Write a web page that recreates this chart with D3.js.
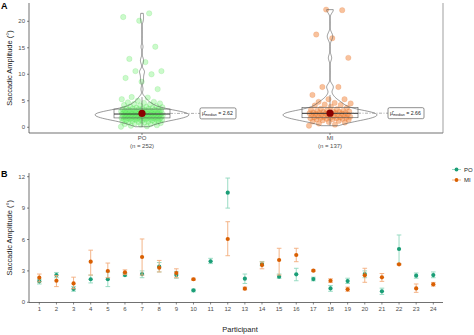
<!DOCTYPE html>
<html>
<head>
<meta charset="utf-8">
<script src="https://cdn.jsdelivr.net/npm/d3@7"></script>
<style>
  body { margin: 0; background: #ffffff; }
  text { font-family: "Liberation Sans", Arial, sans-serif; }
</style>
</head>
<body>
<div id="canvas"></div>
<script>
//panel A data: saccadic amplitudes per condition
var groups = ['PO', 'MI'];
var groupN = ['(n = 252)', '(n = 137)'];
var medianLabels = ['2.62', '2.66'];

var poValues = [0.1, 0.2, 0.3, 0.4, 0.5, 0.6, 0.6, 0.7, 0.8, 0.9, 0.9, 1.0, 1.0, 1.1, 1.1, 1.2, 1.2, 1.25, 1.3, 1.3, 1.4,
  1.4, 1.45, 1.5, 1.5, 1.5, 1.55, 1.6, 1.6, 1.6, 1.65, 1.7, 1.7, 1.7, 1.75, 1.8, 1.8, 1.8, 1.85, 1.9, 1.9,
  1.9, 1.95, 2.0, 2.0, 2.0, 2.0, 2.05, 2.1, 2.1, 2.1, 2.15, 2.2, 2.2, 2.2, 2.2, 2.25, 2.3, 2.3, 2.3, 2.35,
  2.4, 2.4, 2.4, 2.4, 2.45, 2.5, 2.5, 2.5, 2.5, 2.55, 2.6, 2.6, 2.6, 2.62, 2.65, 2.7, 2.7, 2.7, 2.7, 2.75,
  2.8, 2.8, 2.8, 2.85, 2.9, 2.9, 2.9, 2.95, 3.0, 3.0, 3.0, 3.05, 3.1, 3.1, 3.15, 3.2, 3.2, 3.25, 3.3, 3.3,
  3.4, 3.4, 3.45, 3.5, 3.5, 3.55, 3.6, 3.65, 3.7, 3.8, 3.85, 3.9, 4.0, 4.1, 4.2, 4.3, 4.4, 4.5, 4.6, 4.7, 4.8,
  5.0, 5.3, 5.6, 5.7, 7.2, 8.6, 9.3, 10.0, 10.6, 10.6, 12.3, 12.9, 15.2, 20.1, 20.8, 21.5];

var miValues = [0.3, 0.5, 0.7, 0.9, 1.0, 1.1, 1.2, 1.3, 1.4, 1.5, 1.5, 1.6, 1.6, 1.7, 1.7, 1.75, 1.8, 1.8, 1.9, 1.9,
  2.0, 2.0, 2.1, 2.1, 2.2, 2.2, 2.3, 2.3, 2.4, 2.4, 2.5, 2.5, 2.6, 2.6, 2.66, 2.7, 2.7, 2.7, 2.8, 2.8,
  2.9, 2.9, 3.0, 3.0, 3.1, 3.1, 3.2, 3.3, 3.4, 3.5, 3.7, 3.9, 4.1, 4.2, 4.3, 4.5, 4.6, 4.8, 5.3, 5.3,
  6.1, 7.6, 7.6, 13.1, 16.8, 17.5, 22.1, 22.2];

var yTicksA = [0, 5, 10, 15, 20];

//panel B data: mean and interval per participant
var participants = d3.range(1, 25).map(String);
var poMean = [2.0, 2.6, 1.27, 2.2, 2.2, 2.6, 2.7, 3.4, 2.6, 1.14, 3.92, 10.47, 2.26, 3.66, 2.45, 2.67, 2.22, 1.33, 2.03, 2.7, 1.05, 5.09, 2.54, 2.6];
var poLow = [1.75, 2.35, 1.05, 1.85, 1.5, 2.5, 2.35, 2.9, 2.3, 1.0, 3.7, 9.0, 1.8, 3.5, 2.3, 2.06, 2.05, 1.05, 1.8, 2.35, 0.75, 3.7, 2.3, 2.35];
var poHigh = [2.2, 2.85, 1.5, 2.6, 2.9, 2.75, 3.0, 3.8, 2.95, 1.25, 4.2, 11.87, 2.7, 3.9, 2.7, 3.25, 2.4, 1.6, 2.3, 3.0, 1.35, 6.43, 2.8, 2.9];
var miMean = [2.35, 2.06, 1.8, 3.88, 2.99, 2.86, 4.33, 3.3, 2.8, 2.2, null, 6.05, 1.3, 3.56, 4.04, 4.52, 3.02, 2.06, 1.24, 2.58, 2.39, 3.63, 1.33, 1.72];
var miLow = [1.95, 1.5, 1.3, 2.6, 2.35, 2.65, 2.6, 2.9, 2.35, 2.1, null, 4.45, 1.2, 3.2, 2.6, 3.88, 2.95, 1.9, 1.05, 1.91, 2.0, 3.55, 0.95, 1.55];
var miHigh = [2.7, 2.55, 2.4, 4.98, 3.75, 3.1, 6.05, 4.0, 3.2, 2.3, null, 7.7, 1.45, 3.85, 5.16, 5.16, 3.1, 2.25, 1.45, 3.25, 2.75, 3.7, 1.75, 1.9];
var yTicksB = [0, 3, 6, 9, 12];

//canvas
var cv = { 'width': 474, 'height': 335 };
var svg = d3.select('#canvas').append('svg')
  .attr('width', cv.width)
  .attr('height', cv.height);

var axisColor = '#333333';
var tickColor = '#4d4d4d';

//---------------- panel A ----------------
var pA = { 'left': 29, 'right': 443, 'top': 3, 'bottom': 133 };

var yA = d3.scaleLinear()
  .domain([-1.08, 23.45])
  .range([pA.bottom, pA.top]);

var xA = d3.scaleOrdinal()
  .domain(groups)
  .range([142, 330]);

var gA = svg.append('g');

//violin via gaussian kernel density
function kde(values) {
  var sorted = values.slice().sort(d3.ascending);
  var sd = d3.deviation(values);
  var iqr = d3.quantile(sorted, 0.75) - d3.quantile(sorted, 0.25);
  var bw = 0.9 * Math.min(sd, iqr / 1.34) * Math.pow(values.length, -0.2);
  var lo = d3.min(values), hi = d3.max(values);
  var grid = d3.range(lo, hi, (hi - lo) / 200).concat([hi]);
  return grid.map(function(y) {
    var s = d3.sum(values, function(v) {
      var z = (y - v) / bw;
      return Math.exp(-0.5 * z * z);
    });
    return [y, s / (values.length * bw * Math.sqrt(2 * Math.PI))];
  });
}

var groupData = [poValues, miValues];
var fills = ['#5ef05e', '#f2853c'];
var strokes = ['#4fd84f', '#e0702a'];
var fillOp = [0.32, 0.5];

groupData.forEach(function(vals, gi) {
  var cx = xA(groups[gi]);
  var dens = kde(vals);
  var wScale = d3.scaleLinear()
    .domain([0, d3.max(dens, d => d[1])])
    .range([0, 47]);

  //jittered points
  gA.selectAll('.pt' + gi)
    .data(vals)
    .enter().append('circle')
    .attr('class', 'pt' + gi)
    .attr('cx', (d, i) => cx + (((i * 0.6180339) % 1) - 0.5) * 42)
    .attr('cy', d => yA(d))
    .attr('r', 2.7)
    .attr('fill', fills[gi])
    .attr('fill-opacity', fillOp[gi])
    .attr('stroke', strokes[gi])
    .attr('stroke-opacity', 0.35)
    .attr('stroke-width', 0.5);

  var area = d3.area()
    .y(d => yA(d[0]))
    .x0(d => cx - wScale(d[1]))
    .x1(d => cx + wScale(d[1]))
    .curve(d3.curveBasis);

  gA.append('path')
    .datum(dens)
    .attr('d', area)
    .attr('fill', 'none')
    .attr('stroke', '#555555')
    .attr('stroke-width', 0.6);

  //boxplot
  var sorted = vals.slice().sort(d3.ascending);
  var q1 = d3.quantile(sorted, 0.25);
  var q2 = d3.quantile(sorted, 0.5);
  var q3 = d3.quantile(sorted, 0.75);
  var iqr = q3 - q1;
  var wHi = d3.max(sorted.filter(v => v <= q3 + 1.5 * iqr));
  var wLo = d3.min(sorted.filter(v => v >= q1 - 1.5 * iqr));
  var bw = 28;

  gA.append('line')
    .attr('x1', cx).attr('x2', cx)
    .attr('y1', yA(q3)).attr('y2', yA(wHi))
    .attr('stroke', '#555555').attr('stroke-width', 0.6);
  gA.append('line')
    .attr('x1', cx).attr('x2', cx)
    .attr('y1', yA(q1)).attr('y2', yA(wLo))
    .attr('stroke', '#555555').attr('stroke-width', 0.6);
  gA.append('rect')
    .attr('x', cx - bw).attr('width', bw * 2)
    .attr('y', yA(q3)).attr('height', yA(q1) - yA(q3))
    .attr('fill', 'none')
    .attr('stroke', '#555555').attr('stroke-width', 0.6);
  gA.append('line')
    .attr('x1', cx - bw).attr('x2', cx + bw)
    .attr('y1', yA(q2)).attr('y2', yA(q2))
    .attr('stroke', '#333333').attr('stroke-width', 1);

  //median label with dashed leader
  var my = yA(+medianLabels[gi]);
  var lx = cx + 58;
  gA.append('line')
    .attr('x1', cx).attr('x2', lx)
    .attr('y1', my).attr('y2', my)
    .attr('stroke', '#777777')
    .attr('stroke-width', 0.6)
    .attr('stroke-dasharray', '3,1.5,1,1.5');

  gA.append('circle')
    .attr('cx', cx).attr('cy', my)
    .attr('r', 3.6)
    .attr('fill', '#8b0000');

  var lbl = gA.append('g').attr('transform', 'translate(' + lx + ',' + (my - 5.5) + ')');
  lbl.append('rect')
    .attr('width', 36).attr('height', 11)
    .attr('rx', 1.5)
    .attr('fill', '#ffffff')
    .attr('stroke', '#444444')
    .attr('stroke-width', 0.6);
  var t = lbl.append('text')
    .attr('x', 2).attr('y', 7.3)
    .attr('font-size', 5.2)
    .attr('fill', '#222222');
  t.append('tspan').text('\u03BC\u0302');
  t.append('tspan').attr('font-size', 3.6).attr('dy', 1.3).text('median');
  t.append('tspan').attr('dy', -1.3).text(' = ' + medianLabels[gi]);
});

//axes A
gA.append('line')
  .attr('x1', pA.left).attr('x2', pA.left)
  .attr('y1', pA.top).attr('y2', pA.bottom)
  .attr('stroke', axisColor).attr('stroke-width', 0.7);
gA.append('line')
  .attr('x1', pA.left).attr('x2', pA.right)
  .attr('y1', pA.bottom).attr('y2', pA.bottom)
  .attr('stroke', axisColor).attr('stroke-width', 0.7);
gA.append('line')
  .attr('x1', pA.right).attr('x2', pA.right)
  .attr('y1', pA.top).attr('y2', pA.bottom)
  .attr('stroke', '#777777').attr('stroke-width', 0.7);

gA.selectAll('.ytA')
  .data(yTicksA)
  .enter().append('text')
  .attr('x', pA.left - 4)
  .attr('y', d => yA(d) + 2)
  .attr('text-anchor', 'end')
  .attr('font-size', 6)
  .attr('fill', tickColor)
  .text(d => d);
gA.selectAll('.ytkA')
  .data(yTicksA)
  .enter().append('line')
  .attr('x1', pA.left - 2).attr('x2', pA.left)
  .attr('y1', d => yA(d)).attr('y2', d => yA(d))
  .attr('stroke', axisColor).attr('stroke-width', 0.6);

groups.forEach(function(g, gi) {
  gA.append('line')
    .attr('x1', xA(g)).attr('x2', xA(g))
    .attr('y1', pA.bottom).attr('y2', pA.bottom + 2)
    .attr('stroke', axisColor).attr('stroke-width', 0.6);
  gA.append('text')
    .attr('x', xA(g)).attr('y', pA.bottom + 7)
    .attr('text-anchor', 'middle')
    .attr('font-size', 6)
    .attr('fill', tickColor)
    .text(g);
  gA.append('text')
    .attr('x', xA(g)).attr('y', pA.bottom + 14.5)
    .attr('text-anchor', 'middle')
    .attr('font-size', 6)
    .attr('fill', tickColor)
    .text(groupN[gi]);
});

gA.append('text')
  .attr('transform', 'translate(12,' + ((pA.top + pA.bottom) / 2) + ') rotate(-90)')
  .attr('text-anchor', 'middle')
  .attr('font-size', 7.5)
  .attr('fill', '#222222')
  .text('Saccadic Amplitude (\u00B0)');

svg.append('text')
  .attr('x', 1).attr('y', 9)
  .attr('font-size', 9)
  .attr('font-weight', 'bold')
  .text('A');

//---------------- panel B ----------------
var pB = { 'left': 29, 'right': 443, 'top': 173, 'bottom': 302.5 };

var yB = d3.scaleLinear()
  .domain([0, 12])
  .range([302.3, 176.7]);

var xB = d3.scalePoint()
  .domain(participants)
  .range([39.3, 433.3]);

var gB = svg.append('g');

var series = [
  { name: 'PO', mean: poMean, low: poLow, high: poHigh, color: '#1b9e77', bar: '#8fd8bd' },
  { name: 'MI', mean: miMean, low: miLow, high: miHigh, color: '#d95f02', bar: '#f3ad7c' }
];

series.forEach(function(s) {
  var rows = participants.map(function(p, i) {
    return { p: p, m: s.mean[i], lo: s.low[i], hi: s.high[i] };
  }).filter(d => d.m !== null);

  gB.selectAll('.eb' + s.name)
    .data(rows)
    .enter().append('line')
    .attr('x1', d => xB(d.p)).attr('x2', d => xB(d.p))
    .attr('y1', d => yB(d.lo)).attr('y2', d => yB(d.hi))
    .attr('stroke', s.bar).attr('stroke-width', 0.9);
  [['lo', 'capLo'], ['hi', 'capHi']].forEach(function(k) {
    gB.selectAll('.' + k[1] + s.name)
      .data(rows)
      .enter().append('line')
      .attr('x1', d => xB(d.p) - 2.3).attr('x2', d => xB(d.p) + 2.3)
      .attr('y1', d => yB(d[k[0]])).attr('y2', d => yB(d[k[0]]))
      .attr('stroke', s.bar).attr('stroke-width', 0.9);
  });
  gB.selectAll('.pm' + s.name)
    .data(rows)
    .enter().append('circle')
    .attr('cx', d => xB(d.p))
    .attr('cy', d => yB(d.m))
    .attr('r', 2.1)
    .attr('fill', s.color);
});

//axes B
gB.append('line')
  .attr('x1', pB.left).attr('x2', pB.left)
  .attr('y1', pB.top).attr('y2', pB.bottom)
  .attr('stroke', axisColor).attr('stroke-width', 0.7);
gB.append('line')
  .attr('x1', pB.left).attr('x2', pB.right)
  .attr('y1', pB.bottom).attr('y2', pB.bottom)
  .attr('stroke', axisColor).attr('stroke-width', 0.7);

gB.selectAll('.ytB')
  .data(yTicksB)
  .enter().append('text')
  .attr('x', pB.left - 4)
  .attr('y', d => yB(d) + 2)
  .attr('text-anchor', 'end')
  .attr('font-size', 6)
  .attr('fill', tickColor)
  .text(d => d);
gB.selectAll('.ytkB')
  .data(yTicksB)
  .enter().append('line')
  .attr('x1', pB.left - 2).attr('x2', pB.left)
  .attr('y1', d => yB(d)).attr('y2', d => yB(d))
  .attr('stroke', axisColor).attr('stroke-width', 0.6);

gB.selectAll('.xtB')
  .data(participants)
  .enter().append('text')
  .attr('x', d => xB(d))
  .attr('y', pB.bottom + 8)
  .attr('text-anchor', 'middle')
  .attr('font-size', 6)
  .attr('fill', tickColor)
  .text(d => d);
gB.selectAll('.xtkB')
  .data(participants)
  .enter().append('line')
  .attr('x1', d => xB(d)).attr('x2', d => xB(d))
  .attr('y1', pB.bottom).attr('y2', pB.bottom + 2)
  .attr('stroke', axisColor).attr('stroke-width', 0.6);

gB.append('text')
  .attr('x', (pB.left + pB.right) / 2 + 4)
  .attr('y', 332)
  .attr('text-anchor', 'middle')
  .attr('font-size', 7.5)
  .attr('fill', '#222222')
  .text('Participant');

gB.append('text')
  .attr('transform', 'translate(12,' + ((pB.top + pB.bottom) / 2) + ') rotate(-90)')
  .attr('text-anchor', 'middle')
  .attr('font-size', 7.5)
  .attr('fill', '#222222')
  .text('Saccadic Amplitude (\u00B0)');

svg.append('text')
  .attr('x', 1).attr('y', 177)
  .attr('font-size', 9)
  .attr('font-weight', 'bold')
  .text('B');

//legend
var leg = gB.selectAll('.leg')
  .data(series)
  .enter().append('g')
  .attr('transform', (d, i) => 'translate(452,' + (169.5 + i * 10.5) + ')');
leg.append('line')
  .attr('x1', 0).attr('x2', 9)
  .attr('stroke', d => d.bar).attr('stroke-width', 0.9);
leg.append('circle')
  .attr('cx', 4.5).attr('r', 1.9)
  .attr('fill', d => d.color);
leg.append('text')
  .attr('x', 12).attr('y', 2.1)
  .attr('font-size', 6)
  .attr('fill', '#222222')
  .text(d => d.name);
</script>
</body>
</html>
